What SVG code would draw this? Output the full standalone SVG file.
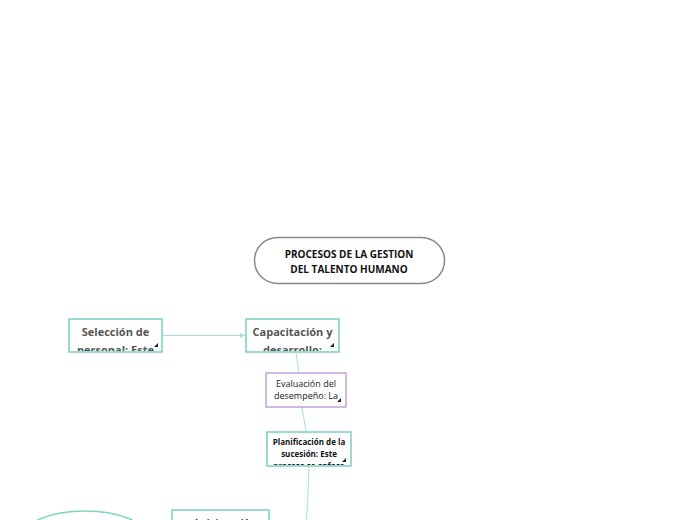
<svg xmlns="http://www.w3.org/2000/svg" width="697" height="520" viewBox="0 0 697 520">
<style>
.box{fill:#fff;stroke:#7fd3c5;stroke-width:1.6}
.purple{fill:#fff;stroke:#c7a8de;stroke-width:1.6}
.conn{fill:none;stroke:#a6e0d6;stroke-width:1}
.t{font-family:"Open Sans","Noto Sans","DejaVu Sans",sans-serif;text-anchor:middle}
.b11{font-size:11px;font-weight:bold;fill:#555}
.n9{font-size:9px;fill:#222}
.b8{font-size:8px;font-weight:bold;fill:#111}
.tri{fill:#222}
</style>
<defs>
<marker id="arr" markerWidth="6" markerHeight="6" refX="5" refY="3" orient="auto" markerUnits="userSpaceOnUse">
<path d="M0,0.5 L5,3 L0,5.5 Z" fill="#a6e0d6"/>
</marker>
<clipPath id="c1"><rect x="70" y="320" width="91" height="31"/></clipPath>
<clipPath id="c2"><rect x="247" y="320" width="91" height="31"/></clipPath>
<clipPath id="c3"><rect x="267" y="374" width="78" height="32"/></clipPath>
<clipPath id="c4"><rect x="268" y="433" width="82" height="32"/></clipPath>
<clipPath id="c5"><rect x="173" y="511" width="95" height="20"/></clipPath>
</defs>
<rect width="697" height="520" fill="#fff"/>
<g id="connectors">
<line class="conn" x1="162" y1="335.5" x2="245" y2="335.5" marker-end="url(#arr)"/>
<path class="conn" d="M296,353 L299,373"/>
<path class="conn" d="M302,407 L306,432"/>
<path class="conn" d="M309,466 C308,490 308,505 306,520"/>
</g>
<g id="root">
<rect x="254.5" y="237.5" width="190" height="46" rx="23" fill="#fff" stroke="#888" stroke-width="1.5"/>
<text class="t" x="349" y="258" style="font-size:10px;font-weight:bold;fill:#111">PROCESOS DE LA GESTION</text>
<text class="t" x="349" y="273" style="font-size:10px;font-weight:bold;fill:#111">DEL TALENTO HUMANO</text>
</g>
<g id="seleccion">
<rect class="box" x="69" y="319" width="93" height="33"/>
<g clip-path="url(#c1)">
<text class="t b11" x="115.5" y="336">Selección de</text>
<text class="t b11" x="115.5" y="354">personal: Este</text>
</g>
<path class="tri" d="M158,343 L158,347 L154,347 Z"/>
</g>
<g id="capacitacion">
<rect class="box" x="246" y="319" width="93" height="33"/>
<g clip-path="url(#c2)">
<text class="t b11" x="292.5" y="336">Capacitación y</text>
<text class="t b11" x="292.5" y="354">desarrollo:</text>
</g>
<path class="tri" d="M334,343 L334,347 L330,347 Z"/>
</g>
<g id="evaluacion">
<rect class="purple" x="266" y="373" width="80" height="34"/>
<g clip-path="url(#c3)">
<text class="t n9" x="306" y="387">Evaluación del</text>
<text class="t n9" x="306" y="399">desempeño: La</text>
</g>
<path class="tri" d="M341,398 L341,402 L337,402 Z"/>
</g>
<g id="planificacion">
<rect class="box" x="267" y="432" width="84" height="34"/>
<g clip-path="url(#c4)">
<text class="t b8" x="309" y="445">Planificación de la</text>
<text class="t b8" x="309" y="457">sucesión: Este</text>
<text class="t b8" x="309" y="469">proceso se enfoca</text>
</g>
<path class="tri" d="M346,458 L346,462 L342,462 Z"/>
</g>
<g id="administracion">
<rect class="box" x="172" y="510" width="97" height="30"/>
<g clip-path="url(#c5)">
<text class="t" x="220.5" y="526" style="font-size:9px;font-weight:bold;fill:#222">Administración</text>
</g>
</g>
<g id="ellipse-node">
<ellipse cx="85" cy="535" rx="60" ry="24" fill="#fff" stroke="#7fd3c5" stroke-width="1.6"/>
</g>
</svg>
